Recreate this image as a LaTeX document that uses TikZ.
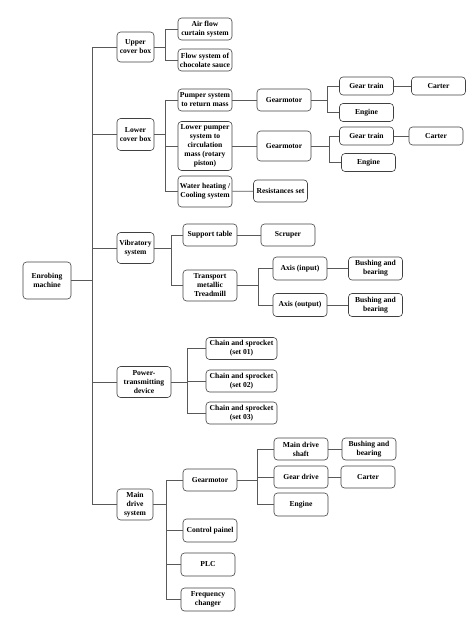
\documentclass[tikz,border=0pt]{standalone}
\usepackage{fontspec}
\setmainfont{Liberation Serif}
\tikzset{
  part/.style={draw=black!75, line width=0.6pt, rounded corners=3.5pt, align=center,
    font=\bfseries\fontsize{7.6}{9}\selectfont, inner sep=0.5pt,
    minimum width=54pt, minimum height=22pt},
  link/.style={draw=black!65, line width=0.7pt}
}
\begin{document}
\begin{tikzpicture}[x=1pt,y=-1pt]
  \useasboundingbox (0,0) rectangle (474,621);
  % level 0 and 1
  \node[part, minimum width=48pt, minimum height=37pt] (root) at (47,280.5) {Enrobing\\machine};
  \node[part, minimum width=37pt, minimum height=30pt] (upper) at (135.5,47) {Upper\\cover box};
  \node[part, minimum width=37pt, minimum height=32pt] (lower) at (135.5,134.5) {Lower\\cover box};
  \node[part, minimum width=37pt, minimum height=31pt] (vib) at (135.5,248) {Vibratory\\system};
  \node[part, minimum width=54pt, minimum height=31pt] (power) at (144,382) {Power-\\transmitting\\device};
  \node[part, minimum width=36pt, minimum height=31pt] (maindrive) at (135,504.5) {Main\\drive\\system};
  % upper cover box
  \node[part] (air) at (205,29) {Air flow\\curtain system};
  \node[part] (choc) at (205,60) {Flow system of\\chocolate sauce};
  % lower cover box
  \node[part] (rpump) at (205,100) {Pumper system\\to return mass};
  \node[part, minimum height=49pt] (lpump) at (205,146) {Lower pumper\\system to\\circulation\\mass (rotary\\piston)};
  \node[part, minimum height=31pt] (water) at (205,191.5) {Water heating /\\Cooling system};
  \node[part] (gmA) at (284,100) {Gearmotor};
  \node[part, minimum height=30pt] (gmB) at (284,146) {Gearmotor};
  \node[part] (resist) at (280.5,191) {Resistances set};
  \node[part, minimum height=18pt] (trainA) at (366.5,86) {Gear train};
  \node[part, minimum height=18pt] (carterA) at (438.5,86) {Carter};
  \node[part, minimum height=18pt] (engineA) at (366.5,112.5) {Engine};
  \node[part, minimum height=18pt] (trainB) at (366.5,136) {Gear train};
  \node[part, minimum height=18pt] (carterB) at (436,136) {Carter};
  \node[part, minimum height=18pt] (engineB) at (368.5,162.5) {Engine};
  % vibratory system
  \node[part] (table) at (210,235) {Support table};
  \node[part, minimum height=31pt] (tread) at (210,285.5) {Transport\\metallic\\Treadmill};
  \node[part] (scruper) at (288,235) {Scruper};
  \node[part, minimum height=23pt] (axisin) at (300,268.5) {Axis (input)};
  \node[part, minimum height=23pt] (axisout) at (300,305) {Axis (output)};
  \node[part, minimum height=23pt] (bushA) at (375.5,268.5) {Bushing and\\bearing};
  \node[part, minimum height=23pt] (bushB) at (375.5,305) {Bushing and\\bearing};
  % power-transmitting device
  \node[part, minimum width=71pt] (chainA) at (241.5,348.5) {Chain and sprocket\\(set 01)};
  \node[part, minimum width=71pt] (chainB) at (241.5,381) {Chain and sprocket\\(set 02)};
  \node[part, minimum width=71pt] (chainC) at (241.5,413) {Chain and sprocket\\(set 03)};
  % main drive system
  \node[part] (gmC) at (210,480) {Gearmotor};
  \node[part, minimum height=23pt] (panel) at (210,530.5) {Control painel};
  \node[part, minimum height=23pt] (plc) at (208,564.5) {PLC};
  \node[part, minimum height=23pt] (freq) at (208,599.5) {Frequency\\changer};
  \node[part] (shaft) at (301,449) {Main drive\\shaft};
  \node[part] (geardrive) at (301,477) {Gear drive};
  \node[part, minimum height=23pt] (engineC) at (301,504.5) {Engine};
  \node[part] (bushC) at (369,449) {Bushing and\\bearing};
  \node[part] (carterC) at (368,477) {Carter};
  % connectors
  \foreach \c in {upper,lower,vib,power,maindrive} \draw[link] (root.east) -- ++(21,0) |- (\c.west);
  \foreach \c in {air,choc} \draw[link] (upper.east) -- ++(11,0) |- (\c.west);
  \foreach \c in {rpump,lpump,water} \draw[link] (lower.east) -- ++(11,0) |- (\c.west);
  \foreach \c in {table,tread} \draw[link] (vib.east) -- ++(17,0) |- (\c.west);
  \foreach \c in {chainA,chainB,chainC} \draw[link] (power.east) -- ++(16,0) |- (\c.west);
  \foreach \c in {gmC,panel,plc,freq} \draw[link] (maindrive.east) -- ++(13,0) |- (\c.west);
  \foreach \c in {trainA,engineA} \draw[link] (gmA.east) -- ++(16,0) |- (\c.west);
  \foreach \c in {trainB,engineB} \draw[link] (gmB.east) -- ++(18,0) |- (\c.west);
  \foreach \c in {axisin,axisout} \draw[link] (tread.east) -- ++(21,0) |- (\c.west);
  \foreach \c in {shaft,geardrive,engineC} \draw[link] (gmC.east) -- ++(20,0) |- (\c.west);
  \draw[link] (rpump) -- (gmA);
  \draw[link] (lpump) -- (gmB);
  \draw[link] (water) -- (resist);
  \draw[link] (trainA) -- (carterA);
  \draw[link] (trainB) -- (carterB);
  \draw[link] (table) -- (scruper);
  \draw[link] (axisin) -- (bushA);
  \draw[link] (axisout) -- (bushB);
  \draw[link] (shaft) -- (bushC);
  \draw[link] (geardrive) -- (carterC);
\end{tikzpicture}
\end{document}
